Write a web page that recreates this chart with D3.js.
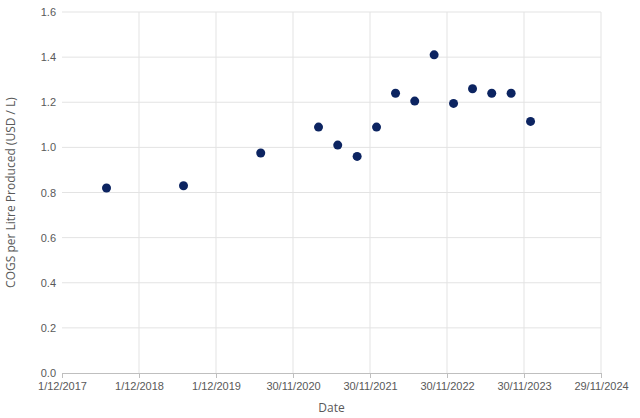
<!DOCTYPE html>
<html lang="en">
<head>
<meta charset="UTF-8">
<script src="https://d3js.org/d3.v7.min.js"></script>
<style>
  body { margin: 0; background: #fff; font-family: "Open Sans", "Liberation Sans", sans-serif; }
  .tick text { fill: #595959; font-size: 11px; }
  .axis-title { fill: #595959; font-size: 12px; }
</style>
</head>
<body>
<svg width="640" height="418"></svg>
<script>
const dates = ["2018-06-30", "2019-06-30", "2020-06-30", "2021-03-31", "2021-06-30", "2021-09-30",
  "2021-12-31", "2022-03-31", "2022-06-30", "2022-09-30", "2022-12-31", "2023-03-31",
  "2023-06-30", "2023-09-30", "2023-12-31"];
const cogs = [0.82, 0.83, 0.975, 1.09, 1.01, 0.96, 1.09, 1.24, 1.205, 1.41, 1.195, 1.26, 1.24, 1.24, 1.115];
const xTickDates = ["2017-12-01", "2018-12-01", "2019-12-01", "2020-11-30", "2021-11-30", "2022-11-30", "2023-11-30", "2024-11-29"];
const xTickLabels = ["1/12/2017", "1/12/2018", "1/12/2019", "30/11/2020", "30/11/2021", "30/11/2022", "30/11/2023", "29/11/2024"];
const yTicks = [0, 0.2, 0.4, 0.6, 0.8, 1.0, 1.2, 1.4, 1.6];

const parse = d3.utcParse("%Y-%m-%d");
const svg = d3.select("svg");
const m = { left: 62, right: 39, top: 12, bottom: 45 };
const W = 640, H = 418;

const x = d3.scaleUtc().domain([parse(xTickDates[0]), parse(xTickDates[xTickDates.length - 1])])
  .range([m.left, W - m.right]);
const y = d3.scaleLinear().domain([0, 1.6]).range([H - m.bottom, m.top]);

// gridlines
svg.append("g").selectAll("line").data(yTicks.slice(1)).join("line")
  .attr("x1", m.left).attr("x2", W - m.right)
  .attr("y1", d => y(d)).attr("y2", d => y(d))
  .attr("stroke", "#e3e3e3");
svg.append("g").selectAll("line").data(xTickDates.slice(1)).join("line")
  .attr("x1", d => x(parse(d))).attr("x2", d => x(parse(d)))
  .attr("y1", m.top).attr("y2", H - m.bottom)
  .attr("stroke", "#e3e3e3");

// axes
const xAxis = svg.append("g").attr("transform", `translate(0,${H - m.bottom})`)
  .call(d3.axisBottom(x).tickValues(xTickDates.map(parse))
    .tickFormat((d, i) => xTickLabels[i]).tickSize(5).tickPadding(4));
xAxis.selectAll("path, line").attr("stroke", "#bfbfbf");

const yAxis = svg.append("g").attr("transform", `translate(${m.left},0)`)
  .call(d3.axisLeft(y).tickValues(yTicks).tickFormat(d3.format(".1f")).tickSize(0).tickPadding(6));
yAxis.select(".domain").remove();
svg.selectAll(".tick text").style("font-family", "inherit");

// points
svg.append("g").selectAll("circle").data(dates).join("circle")
  .attr("cx", d => x(parse(d)))
  .attr("cy", (d, i) => y(cogs[i]))
  .attr("r", 4.5)
  .attr("fill", "#0c2461");

svg.append("text").attr("class", "axis-title")
  .attr("x", (m.left + W - m.right) / 2).attr("y", 412)
  .attr("text-anchor", "middle").text("Date");
svg.append("text").attr("class", "axis-title")
  .attr("transform", `translate(15,${(m.top + H - m.bottom) / 2}) rotate(-90)`)
  .attr("text-anchor", "middle").text("COGS per Litre Produced (USD / L)");
</script>
</body>
</html>
